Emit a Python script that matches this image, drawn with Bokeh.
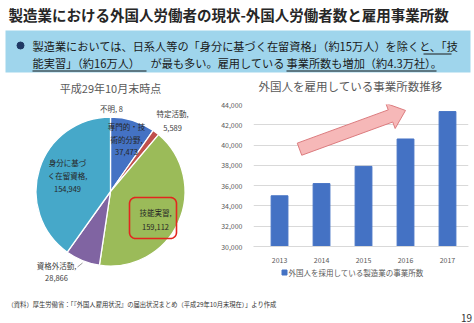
import numpy as np
from bokeh.plotting import figure
from bokeh.models import Range1d, FixedTicker, ColumnDataSource, NumeralTickFormatter
from bokeh.layouts import column, row
from bokeh.embed import file_html
from bokeh.resources import INLINE
from bokeh.core.properties import value

JP = "Noto Sans CJK JP"

# ---------------- data ----------------
page_title = "製造業における外国人労働者の現状-外国人労働者数と雇用事業所数"
bullet_line1 = "製造業においては、日系人等の「身分に基づく在留資格」（約15万人）を除くと、「技"
bullet_line2_parts = ["能実習」（約16万人）", "が最も多い。雇用している", "事業所数も増加（約4.3万社）。"]

pie_title = "平成29年10月末時点"
pie_categories = ["不明", "専門的・技術的分野", "特定活動", "技能実習", "資格外活動", "身分に基づく在留資格"]
pie_values = [8, 37473, 5589, 159112, 28866, 154949]
pie_label_lines = [
    ["不明, 8"],
    ["専門的・技", "術的分野,", "37,473"],
    ["特定活動,", "5,589"],
    ["技能実習,", "159,112"],
    ["資格外活動,", "28,866"],
    ["身分に基づ", "く在留資格,", "154,949"],
]

bar_title = "外国人を雇用している事業所数推移"
years = [2013, 2014, 2015, 2016, 2017]
establishments = [35000, 36200, 37900, 40600, 43300]
bar_legend = "外国人を採用している製造業の事業所数"
y_ticks = [30000, 32000, 34000, 36000, 38000, 40000, 42000, 44000]

footer_text = "（資料）厚生労働省：「『外国人雇用状況』の届出状況まとめ（平成29年10月末現在）」より作成"
page_number = "19"

# ---------------- styles ----------------
pie_colors = ["#A5A5A5", "#4472C4", "#C0504D", "#9BBB59", "#8064A2", "#46A8C9"]
bar_color = "#4472C4"
label_pos = [  # (x, first line y, line gap, color) in page px
    (111, 108, 0, "#404040"),
    (126, 126, 12.5, "#262626"),
    (172, 113, 14, "#404040"),
    (155, 212, 14, "#262626"),
    (56, 265, 12, "#404040"),
    (67, 162, 13, "#262626"),
]
line2_x = [32, 150, 286]


def base_fig(w, h, xr, yr):
    f = figure(width=w, height=h, x_range=xr, y_range=yr, output_backend="svg",
               toolbar_location=None, min_border=0, x_axis_location=None,
               y_axis_location=None, outline_line_color=None)
    f.grid.visible = False
    f.frame_align = False
    return f


# ---------------- header ----------------
hdr = base_fig(474, 78, Range1d(0, 474), Range1d(78, 0))
hdr.text(x=[8], y=[14], text=[page_title], text_font=value(JP), text_font_style="bold",
         text_font_size="14.5px", text_color="#262626", text_baseline="middle", text_align="left")
hdr.quad(left=[5], right=[470], top=[30], bottom=[72], fill_color="#9FD5EC", line_color=None)
hdr.scatter(x=[20], y=[45], size=7, marker="circle", color="#1F3864")
hdr.text(x=[32] + line2_x, y=[45, 62, 62, 62], text=[bullet_line1] + bullet_line2_parts,
         text_font=value(JP), text_font_size="11.2px", text_color="#1a1a1a",
         text_baseline="middle", text_align="left")
hdr.segment(x0=[423, 32, 286], y0=[53.5, 70.5, 70.5], x1=[451, 146, 436], y1=[53.5, 70.5, 70.5],
            line_color="#1a1a1a", line_width=1)

# ---------------- pie ----------------
def Y(py):
    return 323 - py

pie = base_fig(215, 212, Range1d(0, 215), Range1d(33, 245))
vals = np.array(pie_values, dtype=float)
cum = np.concatenate([[0], np.cumsum(vals)]) / vals.sum()
src = ColumnDataSource(dict(
    cat=pie_categories, val=pie_values,
    start=np.pi / 2 - 2 * np.pi * cum[1:],
    end=np.pi / 2 - 2 * np.pi * cum[:-1],
    color=pie_colors))
pie.wedge(x=110, y=Y(191), radius=74.5, start_angle="start", end_angle="end",
          fill_color="color", line_color="white", line_width=1.3, source=src)
pie.text(x=[110], y=[Y(87)], text=[pie_title], text_font=value(JP), text_font_size="11px",
         text_color="#595959", text_align="center", text_baseline="middle")
for lines, (lx, ly, gap, col) in zip(pie_label_lines, label_pos):
    pie.text(x=[lx] * len(lines), y=[Y(ly + i * gap) for i in range(len(lines))], text=lines,
             text_font=value(JP), text_font_size="7.5px", text_color=col,
             text_align="center", text_baseline="middle")
# leader line for 資格外活動
pie.segment(x0=[77], y0=[Y(266.5)], x1=[82], y1=[Y(262.5)], line_color="#808080", line_width=0.8)
# red rounded highlight box
L, R, T, B, r = 129, 176, 197, 238, 6
pts = []
for cx, cy, a0 in [(R - r, T + r, -90), (R - r, B - r, 0), (L + r, B - r, 90), (L + r, T + r, 180)]:
    for a in np.linspace(a0, a0 + 90, 8):
        pts.append((cx + r * np.cos(np.radians(a)), cy + r * np.sin(np.radians(a))))
pie.patch(x=[p[0] for p in pts], y=[Y(p[1]) for p in pts], fill_color=None,
          line_color="#E3261F", line_width=1.6)

# ---------------- bar title strip (page y 78..98) ----------------
btitle = base_fig(259, 20, Range1d(215, 474), Range1d(98, 78))
btitle.text(x=[258], y=[85], text=[bar_title], text_font=value(JP), text_font_size="11.5px",
            text_color="#595959", text_align="left", text_baseline="middle")

# ---------------- bar chart (page y 98..265) ----------------
X0, X1 = 2012.38, 2017.5
bar = figure(width=259, height=167, x_range=Range1d(X0, X1), y_range=Range1d(30000, 44000),
             output_backend="svg", toolbar_location=None, min_border_left=38, min_border_right=6,
             min_border_top=6, min_border_bottom=18, outline_line_color=None)
bar.frame_align = False
bar.xgrid.visible = False
bar.ygrid.grid_line_color = "#D9D9D9"
bar.ygrid.ticker = FixedTicker(ticks=y_ticks)
bar.yaxis.ticker = FixedTicker(ticks=y_ticks)
bar.yaxis.formatter = NumeralTickFormatter(format="0,0")
bar.xaxis.ticker = FixedTicker(ticks=years)
bar.xaxis.major_label_overrides = {y: str(y) for y in years}
for ax in (bar.xaxis, bar.yaxis):
    ax.axis_line_color = None
    ax.major_tick_line_color = None
    ax.minor_tick_line_color = None
    ax.major_label_text_font = JP
    ax.major_label_text_font_size = "7px"
    ax.major_label_text_color = "#595959"
bar.yaxis.major_label_standoff = 5
bar.xaxis.major_label_standoff = 4
bar.xaxis.axis_line_color = "#D9D9D9"

bar.vbar(x=years, top=establishments, bottom=30000, width=0.4, color=bar_color)

def bx(px):
    return X0 + (px - 253) * (X1 - X0) / 215

def by(py):
    return 30000 + (247 - py) * 14000 / 143

tail = np.array([299.0, 149.0]); tip = np.array([405.0, 110.0])
u = (tip - tail) / np.linalg.norm(tip - tail)
n = np.array([-u[1], u[0]])
hl, hw, sw = 16, 13.5, 6.5
base = tip - u * hl
apts = [tail + n * sw, base + n * sw, base + n * hw, tip, base - n * hw, base - n * sw, tail - n * sw]
bar.patch(x=[bx(p[0]) for p in apts], y=[by(p[1]) for p in apts], fill_color="#F6B8B8",
          line_color="#DB7B7E", line_width=1)

# ---------------- bar legend strip (page y 265..290) ----------------
blegend = base_fig(259, 25, Range1d(215, 474), Range1d(290, 265))
blegend.scatter(x=[284], y=[272], marker="square", size=5, color=bar_color)
blegend.text(x=[288], y=[272], text=[bar_legend], text_font=value(JP), text_font_size="7.5px",
             text_color="#595959", text_align="left", text_baseline="middle")

# ---------------- footer ----------------
ftr = base_fig(474, 33, Range1d(0, 474), Range1d(323, 290))
ftr.text(x=[7], y=[304], text=[footer_text], text_font=value(JP), text_font_size="6.3px",
         text_color="#333333", text_align="left", text_baseline="middle")
ftr.text(x=[466], y=[317], text=[page_number], text_font=value(JP), text_font_size="10px",
         text_color="#333333", text_align="center", text_baseline="middle")

right_col = column(btitle, bar, blegend, spacing=0)
layout = column(hdr, row(pie, right_col, spacing=0), ftr, spacing=0)
open("out.html", "w").write(file_html(layout, INLINE))
